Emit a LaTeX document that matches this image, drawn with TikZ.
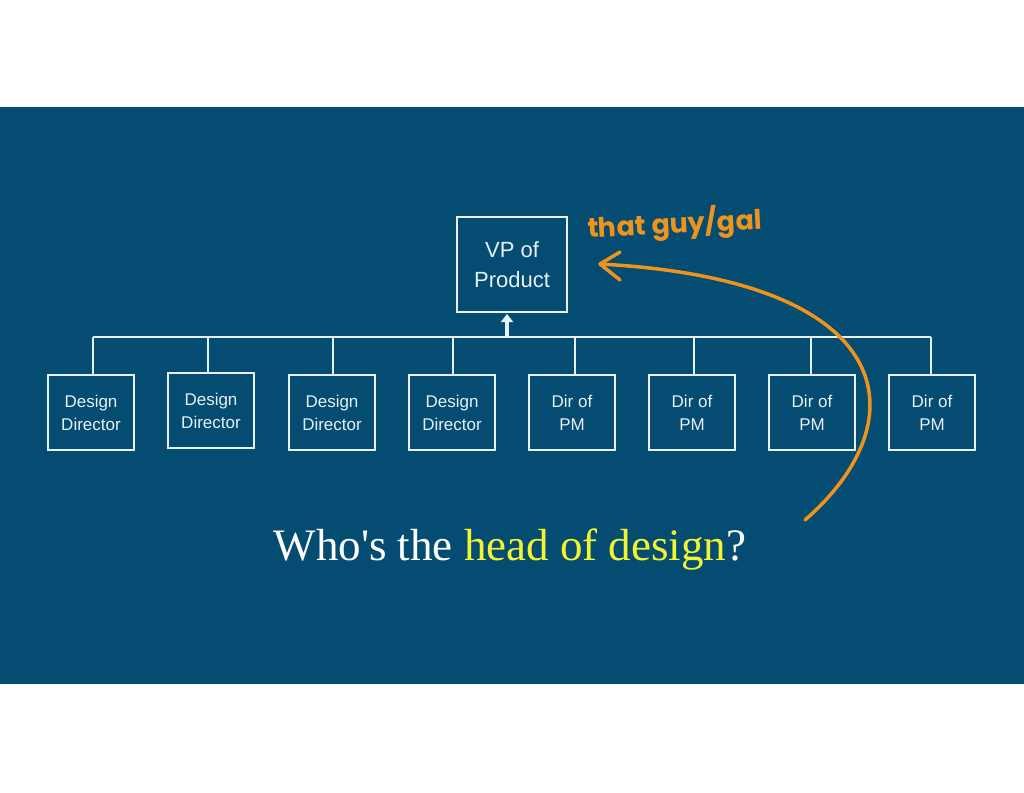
\documentclass[tikz,border=0pt]{standalone}
\usepackage{fontspec}
\setmainfont{Liberation Serif}
\setsansfont{Liberation Sans}
\newfontfamily\qfont{Liberation Serif}
\newfontfamily\handfont{Poppins}
\usetikzlibrary{arrows.meta}
\definecolor{bgblue}{HTML}{044C71}
\definecolor{boxline}{HTML}{E6F0F5}
\definecolor{orng}{HTML}{EE941C}
\definecolor{yel}{HTML}{F4F531}
\tikzset{
  x=1pt,y=-1pt,
  orgbox/.style={draw=boxline,line width=2.2pt,minimum width=86pt,minimum height=75pt,inner sep=0pt,
    text=boxline,font=\sffamily\fontsize{17}{23}\selectfont,align=center},
  wire/.style={draw=boxline,line width=1.2pt}
}
\begin{document}
\begin{tikzpicture}
\useasboundingbox (0,0) rectangle (1024,792);
\fill[white] (0,0) rectangle (1024,792);
\fill[bgblue] (0,107) rectangle (1024,684);
\node[orgbox,minimum width=110pt,minimum height=95pt,font=\sffamily\fontsize{22}{30}\selectfont] (vp) at (512,264.5) {VP of\\Product};
\node[orgbox] (b1) at (91,412.5) {Design\\Director};
\node[orgbox] (b2) at (211,410.5) {Design\\Director};
\node[orgbox] (b3) at (332,412.5) {Design\\Director};
\node[orgbox] (b4) at (452,412.5) {Design\\Director};
\node[orgbox] (b5) at (572,412.5) {Dir of\\PM};
\node[orgbox] (b6) at (692,412.5) {Dir of\\PM};
\node[orgbox] (b7) at (812,412.5) {Dir of\\PM};
\node[orgbox] (b8) at (932,412.5) {Dir of\\PM};
\coordinate (hl) at (93,337);
\coordinate (hr) at (931,337);
\draw[wire] (hl) -- (hr);
\foreach \i/\x in {1/93,2/208,3/333,4/453,5/575,6/694,7/811,8/931}{
  \draw[wire] (\x,337) -- (b\i.north -| \x,0);
}
\coordinate (vpbase) at (507,337);
\draw[draw=boxline,line width=4pt,-{Triangle[length=8pt,width=12pt]}] (vpbase) -- (507,314);
\coordinate (cs) at (805,520);
\coordinate (ce) at (600,264);
\draw[orng,line width=3.5pt,line cap=round] (cs) .. controls (920,420) and (900,280) .. (ce);
\draw[orng,line width=3.5pt,line cap=round,line join=round] (620,252) -- (ce) -- (620,280);
\node[text=orng,font=\handfont\bfseries\fontsize{27}{30}\selectfont,rotate=3,anchor=west] (tg) at (584,229) {that guy/gal};
\node[font=\qfont\fontsize{45}{50}\selectfont,text=white] (q) at (510,550) {Who's the \textcolor{yel}{head of design}?};
\end{tikzpicture}
\end{document}
